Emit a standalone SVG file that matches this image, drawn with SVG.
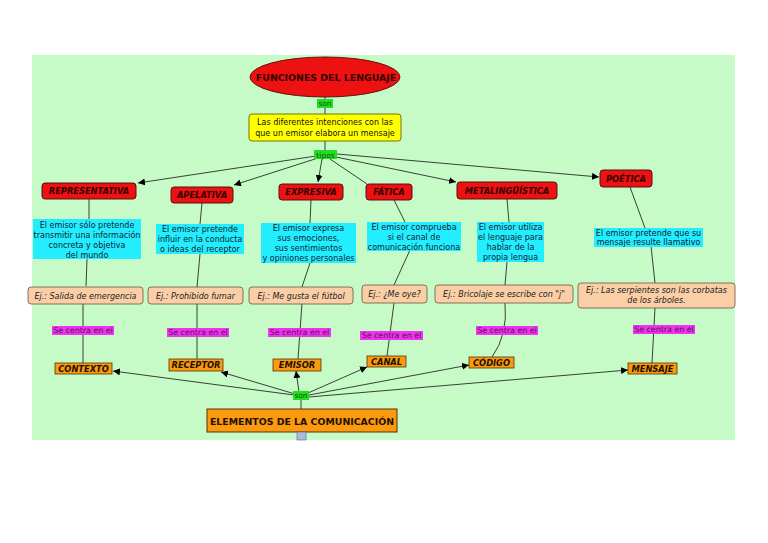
<svg xmlns="http://www.w3.org/2000/svg" width="768" height="543" viewBox="0 0 768 543">
<style>
text{font-family:"DejaVu Sans",Verdana,sans-serif;text-anchor:middle;fill:#111}
.hdr rect{fill:#ee1111;stroke:#551111;stroke-width:1}
.hdr text{font-size:8.3px;font-weight:bold;font-style:italic;fill:#330000}
.desc rect{fill:#22eeff;stroke:none}
.desc text{font-size:8px;fill:#123}
.ex rect{fill:#fbcfa6;stroke:#665544;stroke-width:0.8}
.ex text{font-size:8px;font-style:italic;fill:#222}
.lab rect{fill:#ee33ee}
.lab text{font-size:7.9px;fill:#551155}
.el rect{fill:#fb9a0e;stroke:#553300;stroke-width:0.8}
.el text{font-size:8.3px;font-weight:bold;font-style:italic;fill:#221100}
.son rect{fill:#22dd22}
.son text{font-size:7.5px;fill:#115511}
.c line,.c path{stroke:#111;stroke-width:0.8;fill:none}
.a{marker-end:url(#ah)}
</style>
<defs>
<marker id="ah" viewBox="0 0 10 10" refX="10" refY="5" markerWidth="7" markerHeight="7" markerUnits="userSpaceOnUse" orient="auto">
<path d="M0,0 L10,5 L0,10 z" fill="#000"/>
</marker>
</defs>
<rect x="0" y="0" width="768" height="543" fill="#fff"/>
<rect x="32" y="55" width="703" height="385" fill="#c6fbc8"/>

<g class="c" id="connectors">
<line x1="325" y1="96" x2="325" y2="114"/>
<line x1="325" y1="141" x2="325" y2="151"/>
<line class="a" x1="316" y1="156" x2="138" y2="183"/>
<line class="a" x1="318" y1="158" x2="234" y2="185"/>
<line class="a" x1="322" y1="159" x2="318" y2="182"/>
<line x1="330" y1="159" x2="367" y2="184"/>
<line class="a" x1="336" y1="157" x2="456" y2="182"/>
<line class="a" x1="337" y1="154" x2="599" y2="177"/>
<line x1="89" y1="199" x2="89" y2="219"/>
<line x1="202" y1="203" x2="200" y2="224"/>
<line x1="311" y1="200" x2="310" y2="223"/>
<line x1="394" y1="200" x2="405" y2="222"/>
<line x1="507" y1="199" x2="509" y2="222"/>
<line x1="630" y1="187" x2="645" y2="228"/>
<line x1="87" y1="259" x2="86" y2="286"/>
<line x1="200" y1="254" x2="197" y2="287"/>
<line x1="310" y1="263" x2="302" y2="287"/>
<line x1="410" y1="250" x2="394" y2="285"/>
<line x1="507" y1="262" x2="505" y2="285"/>
<line x1="651" y1="246" x2="655" y2="283"/>
<line x1="83" y1="304" x2="83" y2="363"/>
<line x1="197" y1="303" x2="197" y2="359"/>
<line x1="302" y1="303" x2="298" y2="359"/>
<line x1="394" y1="303" x2="387" y2="356"/>
<path d="M505,303 Q508,335 492,357"/>
<line x1="655" y1="308" x2="652" y2="363"/>
<line x1="301" y1="400" x2="301" y2="409"/>
<line class="a" x1="294" y1="395" x2="113" y2="371"/>
<line class="a" x1="295" y1="394" x2="221" y2="372"/>
<line class="a" x1="299" y1="392" x2="296" y2="371"/>
<line class="a" x1="308" y1="393" x2="367" y2="367"/>
<line class="a" x1="309" y1="395" x2="469" y2="365"/>
<line class="a" x1="309" y1="397" x2="628" y2="370"/>
</g>

<g id="funciones">
<ellipse cx="325" cy="77" rx="75" ry="20" fill="#ee1111" stroke="#661111" stroke-width="1"/>
<text x="326" y="80.5" style="font-size:9.4px;font-weight:bold;fill:#330000">FUNCIONES DEL LENGUAJE</text>
</g>
<g id="son1" class="son"><rect x="317" y="99" width="16" height="9"/><text x="325" y="106">son</text></g>
<g id="intenciones">
<rect x="249" y="114" width="152" height="27" rx="3" fill="#ffff00" stroke="#777700" stroke-width="1"/>
<text x="325" y="125" style="font-size:8px">Las diferentes intenciones con las</text>
<text x="325" y="136" style="font-size:8px">que un emisor elabora un mensaje</text>
</g>
<g id="tipos" class="son"><rect x="314" y="150" width="23" height="9"/><text x="325.5" y="157.5">tipos</text></g>

<g id="representativa" class="hdr"><rect x="42" y="183" width="94" height="16" rx="3"/><text x="89" y="194">REPRESENTATIVA</text></g>
<g id="apelativa" class="hdr"><rect x="171" y="187" width="62" height="16" rx="3"/><text x="202" y="198">APELATIVA</text></g>
<g id="expresiva" class="hdr"><rect x="279" y="184" width="64" height="16" rx="3"/><text x="311" y="195">EXPRESIVA</text></g>
<g id="fatica" class="hdr"><rect x="366" y="184" width="46" height="16" rx="3"/><text x="389" y="195">FÁTICA</text></g>
<g id="metalinguistica" class="hdr"><rect x="457" y="182" width="100" height="17" rx="3"/><text x="507" y="193.5">METALINGÜÍSTICA</text></g>
<g id="poetica" class="hdr"><rect x="600" y="170" width="52" height="17" rx="3"/><text x="626" y="181.5">POÉTICA</text></g>

<g id="d-representativa" class="desc"><rect x="33" y="219" width="108" height="40"/>
<text x="87" y="228">El emisor sólo pretende</text><text x="87" y="238">transmitir una información</text><text x="87" y="248">concreta y objetiva</text><text x="87" y="258">del mundo</text></g>
<g id="d-apelativa" class="desc"><rect x="156" y="224" width="88" height="30"/>
<text x="200" y="232">El emisor pretende</text><text x="200" y="242">influir en la conducta</text><text x="200" y="252">o ideas del receptor</text></g>
<g id="d-expresiva" class="desc"><rect x="261" y="223" width="95" height="40"/>
<text x="308.5" y="231">El emisor expresa</text><text x="308.5" y="241">sus emociones,</text><text x="308.5" y="251">sus sentimientos</text><text x="308.5" y="261">y opiniones personales</text></g>
<g id="d-fatica" class="desc"><rect x="367" y="222" width="94" height="29"/>
<text x="414" y="230">El emisor comprueba</text><text x="414" y="240">si el canal de</text><text x="414" y="250">comunicación funciona</text></g>
<g id="d-metalinguistica" class="desc"><rect x="477" y="222" width="67" height="40"/>
<text x="510.5" y="230">El emisor utiliza</text><text x="510.5" y="240">el lenguaje para</text><text x="510.5" y="250">hablar de la</text><text x="510.5" y="260">propia lengua</text></g>
<g id="d-poetica" class="desc"><rect x="594" y="228" width="109" height="19"/>
<text x="648.5" y="236">El emisor pretende que su</text><text x="648.5" y="245">mensaje resulte llamativo</text></g>

<g id="e-representativa" class="ex"><rect x="28" y="287" width="115" height="17" rx="3"/><text x="85.5" y="298.5">Ej.: Salida de emergencia</text></g>
<g id="e-apelativa" class="ex"><rect x="148" y="287" width="95" height="17" rx="3"/><text x="195.5" y="298.5">Ej.: Prohibido fumar</text></g>
<g id="e-expresiva" class="ex"><rect x="249" y="287" width="104" height="17" rx="3"/><text x="301" y="298.5">Ej.: Me gusta el fútbol</text></g>
<g id="e-fatica" class="ex"><rect x="362" y="285" width="65" height="18" rx="3"/><text x="394.5" y="297">Ej.: ¿Me oye?</text></g>
<g id="e-metalinguistica" class="ex"><rect x="435" y="285" width="138" height="18" rx="3"/><text x="504" y="297">Ej.: Bricolaje se escribe con "j"</text></g>
<g id="e-poetica" class="ex"><rect x="578" y="283" width="157" height="25" rx="3"/><text x="656.5" y="293">Ej.: Las serpientes son las corbatas</text><text x="656.5" y="303">de los árboles.</text></g>

<g id="l1" class="lab"><rect x="52" y="326" width="62" height="9"/><text x="83" y="333">Se centra en el</text></g>
<g id="l2" class="lab"><rect x="167" y="328" width="62" height="9"/><text x="198" y="335">Se centra en el</text></g>
<g id="l3" class="lab"><rect x="268" y="328" width="63" height="9"/><text x="299.5" y="335">Se centra en el</text></g>
<g id="l4" class="lab"><rect x="360" y="331" width="63" height="9"/><text x="391.5" y="338">Se centra en el</text></g>
<g id="l5" class="lab"><rect x="476" y="326" width="62" height="9"/><text x="507" y="333">Se centra en el</text></g>
<g id="l6" class="lab"><rect x="633" y="325" width="62" height="9"/><text x="664" y="332">Se centra en el</text></g>

<g id="contexto" class="el"><rect x="55" y="363" width="57" height="11"/><text x="83.5" y="371.8">CONTEXTO</text></g>
<g id="receptor" class="el"><rect x="169" y="359" width="54" height="12"/><text x="196" y="368.3">RECEPTOR</text></g>
<g id="emisor" class="el"><rect x="273" y="359" width="48" height="12"/><text x="297" y="368.3">EMISOR</text></g>
<g id="canal" class="el"><rect x="367" y="356" width="39" height="11"/><text x="386.5" y="364.8">CANAL</text></g>
<g id="codigo" class="el"><rect x="469" y="357" width="45" height="11"/><text x="491.5" y="365.8">CÓDIGO</text></g>
<g id="mensaje" class="el"><rect x="628" y="363" width="49" height="11"/><text x="652.5" y="371.8">MENSAJE</text></g>

<g id="son2" class="son"><rect x="293" y="391" width="16" height="9"/><text x="301" y="398">son</text></g>
<g id="elementos">
<rect x="207" y="409" width="190" height="23" fill="#fb9a0e" stroke="#553300" stroke-width="1"/>
<text x="302" y="424.5" style="font-size:9.4px;font-weight:bold;fill:#221100">ELEMENTOS DE LA COMUNICACIÓN</text>
</g>
<g id="icon"><rect x="297" y="432" width="9" height="8" fill="#aabbdd" stroke="#556688" stroke-width="0.6"/></g>
</svg>
